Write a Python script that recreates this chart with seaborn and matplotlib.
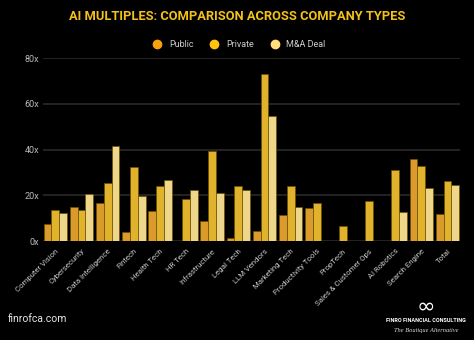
import numpy as np
import pandas as pd
import matplotlib
matplotlib.use("Agg")
import matplotlib.pyplot as plt
import seaborn as sns

categories = ["Computer Vision", "Cybersecurity", "Data Intelligence", "Fintech",
              "Health Tech", "HR Tech", "Infrastructure", "Legal Tech", "LLM Vendors",
              "Marketing Tech", "Productivity Tools", "PropTech", "Sales & Customer Ops",
              "AI Robotics", "Search Engine", "Total"]
public = [7.3, 14.8, 16.7, 3.8, 13.2, np.nan, 8.7, 1.3, 4.2, 11.6, 14.5, np.nan, np.nan, np.nan, 36.1, 12.0]
private = [13.5, 13.6, 25.4, 32.6, 24.1, 18.6, 39.6, 24.1, 73.2, 24.1, 16.7, 6.5, 17.4, 30.9, 32.9, 26.2]
mna = [12.3, 20.4, 41.6, 19.9, 26.7, 22.2, 21.2, 22.2, 54.7, 15.0, np.nan, np.nan, np.nan, 12.9, 23.3, 24.3]
series = ["Public", "Private", "M&A Deal"]
yticks = [0, 20, 40, 60, 80]
ytick_labels = ["0x", "20x", "40x", "60x", "80x"]

df = pd.DataFrame({
    "Category": categories * 3,
    "Type": [series[0]] * len(categories) + [series[1]] * len(categories) + [series[2]] * len(categories),
    "Value": public + private + mna,
})

colors = ["#F7A10F", "#FFC20E", "#FFE07A"]

sns.set_theme(style="dark")
plt.rcParams["font.family"] = ["Roboto", "DejaVu Sans"]

fig = plt.figure(figsize=(4.74, 3.40), dpi=100, facecolor="black")
ax = fig.add_axes([0.091, 0.291, 0.879, 0.538])
ax.set_facecolor("black")

sns.barplot(data=df, x="Category", y="Value", hue="Type", hue_order=series,
            palette=colors, width=0.9, edgecolor="#6b5000", linewidth=0.5,
            ax=ax, legend=False, errorbar=None)

ax.set_ylim(0, 80)
ax.set_xlim(-0.47, len(categories) - 0.53)
ax.set_yticks(yticks)
ax.set_yticklabels(ytick_labels, color="#bbbbbb", fontsize=6.5)
ax.yaxis.grid(True, color="#2a2a2a", linewidth=1.2)
ax.xaxis.grid(False)
ax.set_axisbelow(True)
for s in ax.spines.values():
    s.set_visible(False)
ax.tick_params(axis="y", length=0, pad=3)
ax.tick_params(axis="x", length=0, pad=5)
ax.set_xlabel("")
ax.set_ylabel("")
ax.set_xticks(range(len(categories)))
ax.set_xticklabels(categories, rotation=45, ha="right", rotation_mode="anchor",
                   color="#c8c8c8", fontsize=5.6)

handles = [plt.Line2D([], [], marker="o", linestyle="", markersize=6,
                      markerfacecolor=c, markeredgecolor=c) for c in colors]
fig.legend(handles, series, loc="center", bbox_to_anchor=(0.5, 0.87), ncol=3,
           frameon=False, fontsize=6.5, labelcolor="#cccccc", handletextpad=0.3,
           columnspacing=1.3)

fig.text(0.5, 0.95, "AI MULTIPLES: COMPARISON ACROSS COMPANY TYPES", ha="center",
         va="center", color="#F2C11B", fontsize=9.3, fontweight="bold")

fig.text(0.017, 0.062, "finrofca.com", ha="left", va="center", color="#e8e8e8", fontsize=7.5)
fig.text(0.899, 0.098, "\u221e", ha="center", va="center", color="white", fontsize=16,
         family=["DejaVu Sans"])
fig.text(0.899, 0.056, "FINRO FINANCIAL CONSULTING", ha="center", va="center",
         color="white", fontsize=4.0, fontweight="bold", family=["Roboto", "DejaVu Sans"])
fig.text(0.899, 0.027, "The Boutique Alternative", ha="center", va="center",
         color="#dddddd", fontsize=4.6, style="italic", family=["Liberation Serif", "DejaVu Serif"])

fig.savefig("out.png", dpi=100, facecolor="black")
